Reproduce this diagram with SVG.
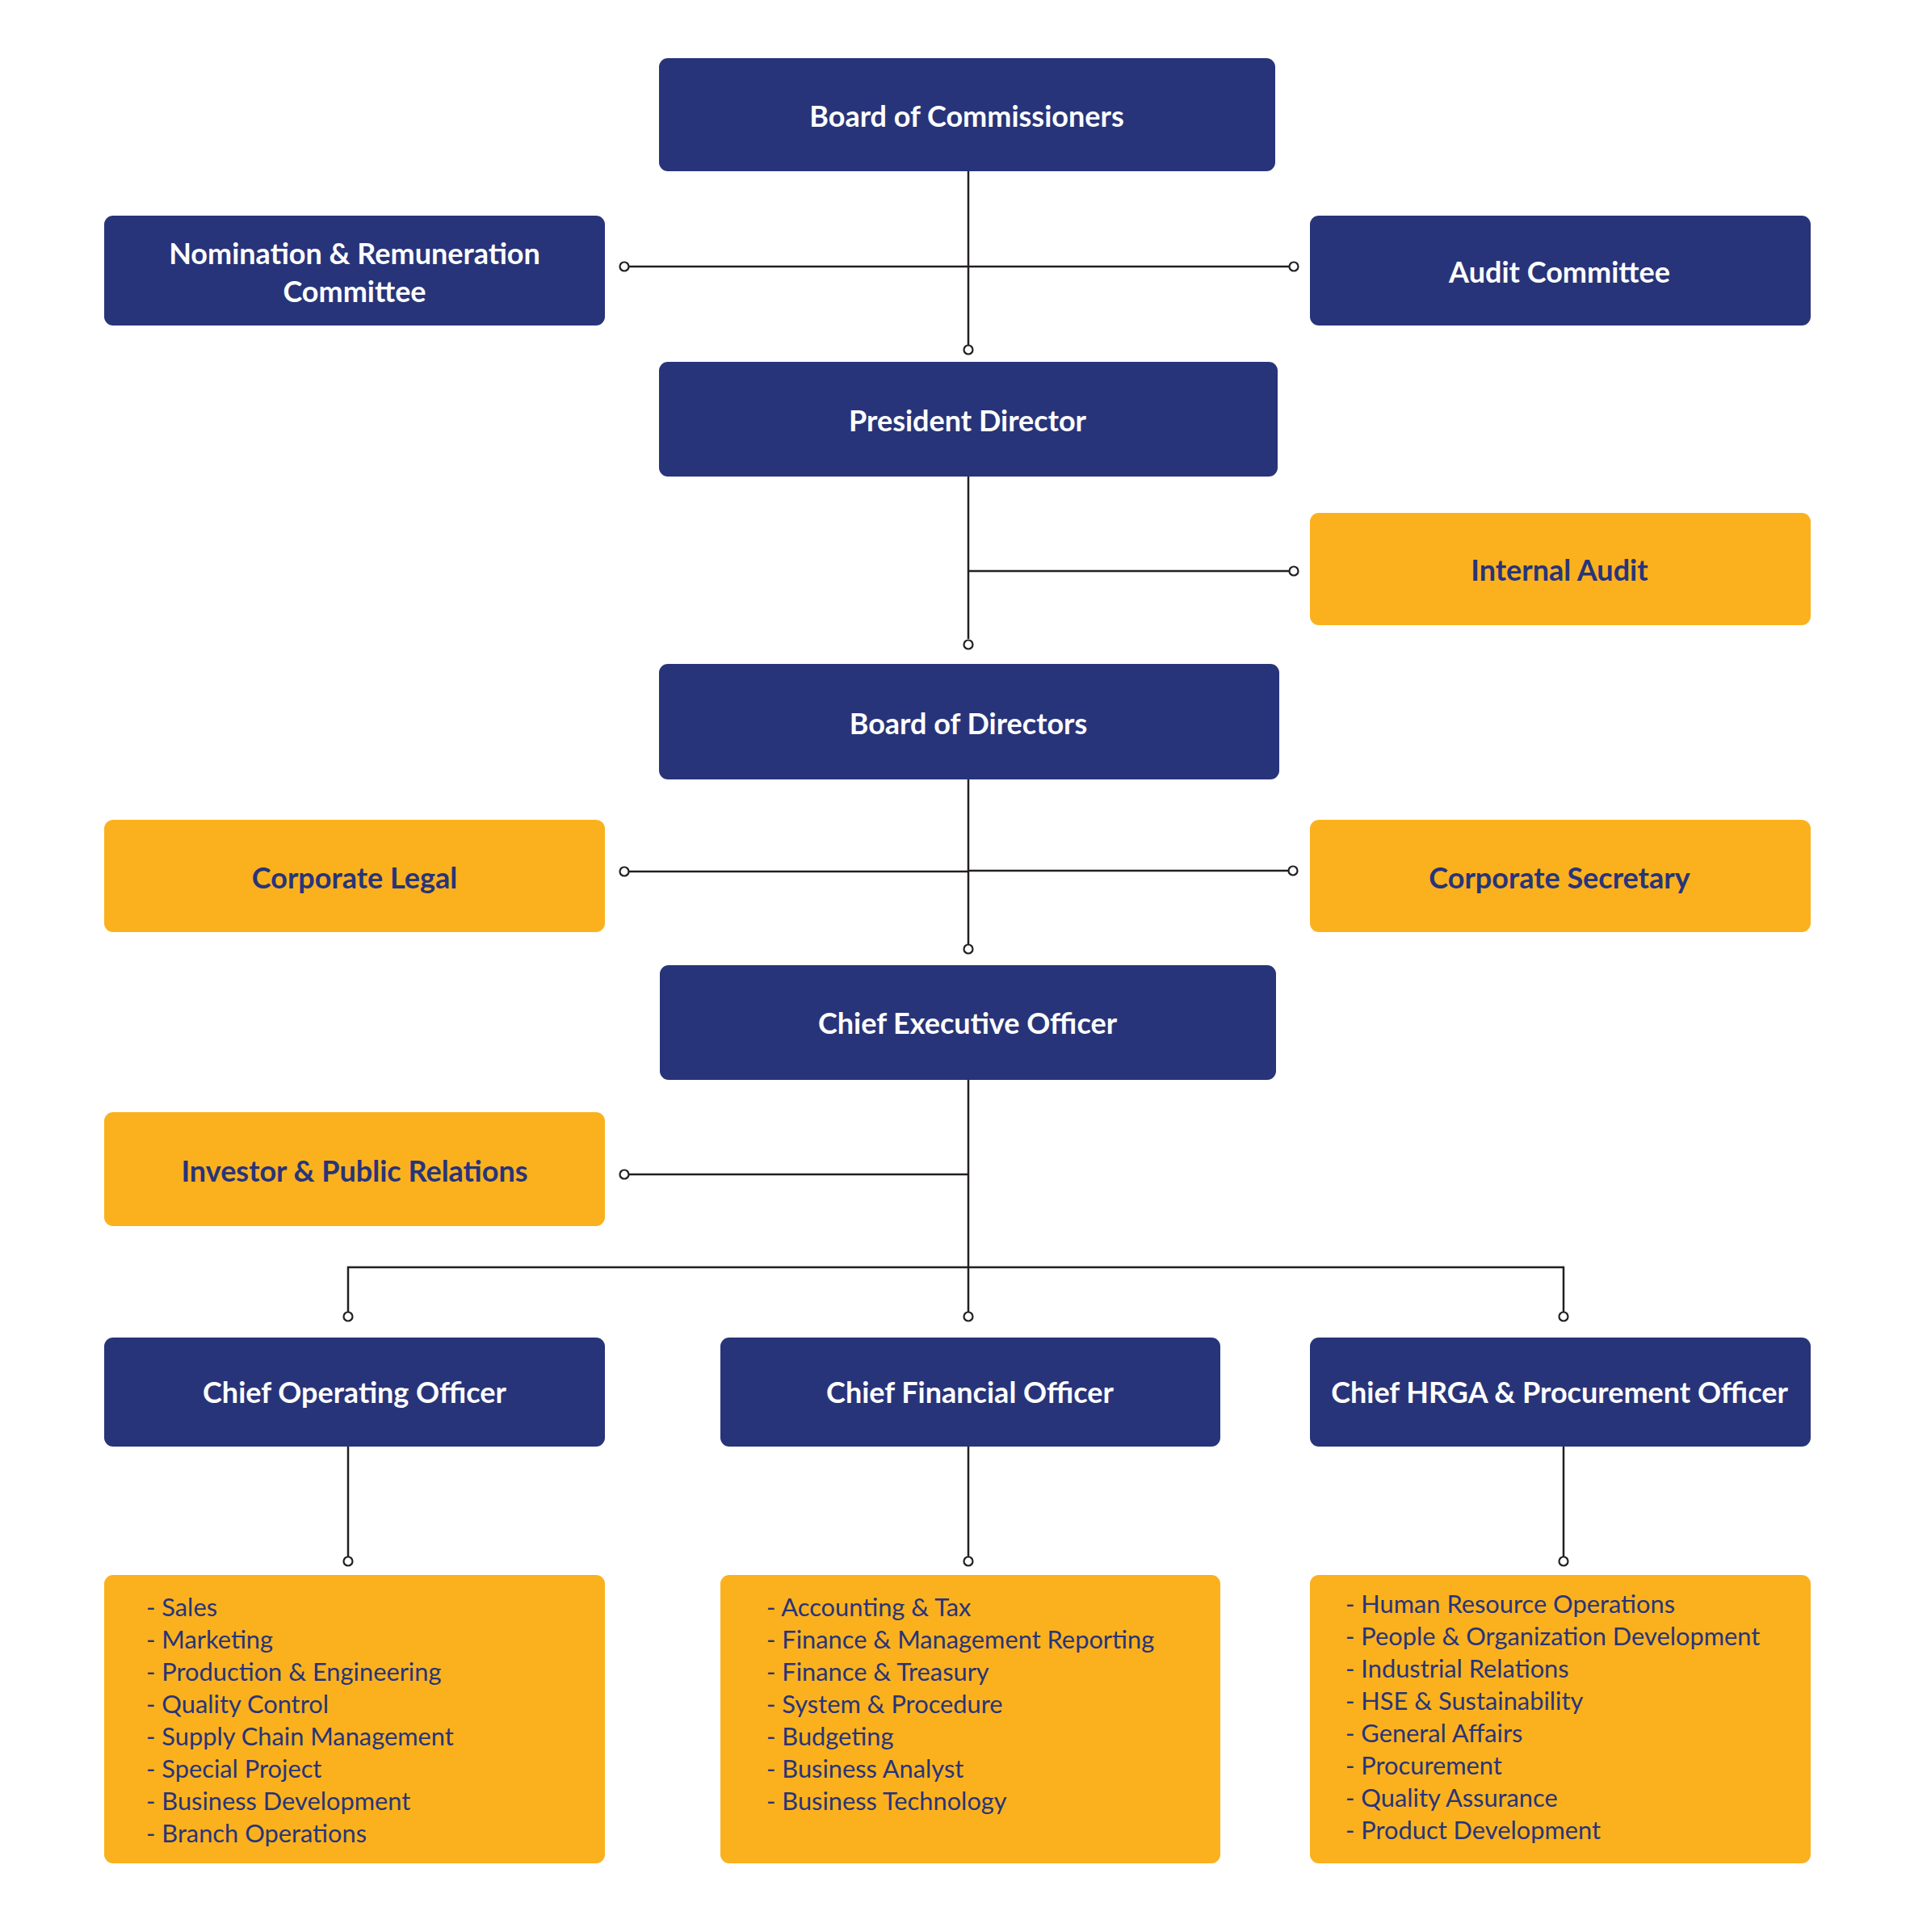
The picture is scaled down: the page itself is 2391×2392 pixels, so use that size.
<svg xmlns="http://www.w3.org/2000/svg" width="2391" height="2392" viewBox="0 0 2391 2392">
<style>
.navy{fill:#283479}
.orange{fill:#FBB11E}
.t{font-family:Lato,"Liberation Sans",sans-serif;font-weight:bold;font-size:36px;text-anchor:middle}
.w{fill:#ffffff}
.b{fill:#283479}
.l{font-family:Lato,"Liberation Sans",sans-serif;font-size:30.8px;fill:#283479}
.c{stroke:#231f20;stroke-width:2.5;fill:none}
.dot{stroke:#231f20;stroke-width:2.2;fill:#ffffff}
</style>
<rect width="2391" height="2392" fill="#ffffff"/>
<g id="connectors">
<path class="c" d="M1199 212V427M773 330H1596"/>
<path class="c" d="M1199 590V791M1199 707H1596"/>
<path class="c" d="M1199 965V1169M773 1079H1199M1199 1078H1595"/>
<path class="c" d="M1199 1337V1624M773 1454H1199M431 1624V1569H1936V1624"/>
<path class="c" d="M431 1791V1927M1199 1791V1927M1936 1791V1927"/>
<circle class="dot" cx="773" cy="330" r="5.5"/>
<circle class="dot" cx="1602" cy="330" r="5.5"/>
<circle class="dot" cx="1199" cy="433" r="5.5"/>
<circle class="dot" cx="1602" cy="707" r="5.5"/>
<circle class="dot" cx="1199" cy="798" r="5.5"/>
<circle class="dot" cx="773" cy="1079" r="5.5"/>
<circle class="dot" cx="1601" cy="1078" r="5.5"/>
<circle class="dot" cx="1199" cy="1175" r="5.5"/>
<circle class="dot" cx="773" cy="1454" r="5.5"/>
<circle class="dot" cx="431" cy="1630" r="5.5"/>
<circle class="dot" cx="1199" cy="1630" r="5.5"/>
<circle class="dot" cx="1936" cy="1630" r="5.5"/>
<circle class="dot" cx="431" cy="1933" r="5.5"/>
<circle class="dot" cx="1199" cy="1933" r="5.5"/>
<circle class="dot" cx="1936" cy="1933" r="5.5"/>
</g>
<g id="board-of-commissioners">
<rect class="navy" x="816" y="72" width="763" height="140" rx="11"/>
<text class="t w" x="1197" y="157">Board of Commissioners</text>
</g>
<g id="nomination-remuneration">
<rect class="navy" x="129" y="267" width="620" height="136" rx="11"/>
<text class="t w" x="439" y="327">Nomination &amp; Remuneration</text>
<text class="t w" x="439" y="374">Committee</text>
</g>
<g id="audit-committee">
<rect class="navy" x="1622" y="267" width="620" height="136" rx="11"/>
<text class="t w" x="1931" y="350">Audit Committee</text>
</g>
<g id="president-director">
<rect class="navy" x="816" y="448" width="766" height="142" rx="11"/>
<text class="t w" x="1198" y="534">President Director</text>
</g>
<g id="internal-audit">
<rect class="orange" x="1622" y="635" width="620" height="139" rx="11"/>
<text class="t b" x="1931" y="719">Internal Audit</text>
</g>
<g id="board-of-directors">
<rect class="navy" x="816" y="822" width="768" height="143" rx="11"/>
<text class="t w" x="1199" y="909">Board of Directors</text>
</g>
<g id="corporate-legal">
<rect class="orange" x="129" y="1015" width="620" height="139" rx="11"/>
<text class="t b" x="439" y="1100">Corporate Legal</text>
</g>
<g id="corporate-secretary">
<rect class="orange" x="1622" y="1015" width="620" height="139" rx="11"/>
<text class="t b" x="1931" y="1100">Corporate Secretary</text>
</g>
<g id="ceo">
<rect class="navy" x="817" y="1195" width="763" height="142" rx="11"/>
<text class="t w" x="1198" y="1280">Chief Executive Officer</text>
</g>
<g id="investor-public-relations">
<rect class="orange" x="129" y="1377" width="620" height="141" rx="11"/>
<text class="t b" x="439" y="1463">Investor &amp; Public Relations</text>
</g>
<g id="coo">
<rect class="navy" x="129" y="1656" width="620" height="135" rx="11"/>
<text class="t w" x="439" y="1737">Chief Operating Officer</text>
</g>
<g id="cfo">
<rect class="navy" x="892" y="1656" width="619" height="135" rx="11"/>
<text class="t w" x="1201" y="1737">Chief Financial Officer</text>
</g>
<g id="chrga">
<rect class="navy" x="1622" y="1656" width="620" height="135" rx="11"/>
<text class="t w" x="1931" y="1737">Chief HRGA &amp; Procurement Officer</text>
</g>
<g id="coo-units">
<rect class="orange" x="129" y="1950" width="620" height="357" rx="11"/>
<text class="l" x="181" y="2001">- Sales</text>
<text class="l" x="181" y="2041">- Marketing</text>
<text class="l" x="181" y="2081">- Production &amp; Engineering</text>
<text class="l" x="181" y="2121">- Quality Control</text>
<text class="l" x="181" y="2161">- Supply Chain Management</text>
<text class="l" x="181" y="2201">- Special Project</text>
<text class="l" x="181" y="2241">- Business Development</text>
<text class="l" x="181" y="2281">- Branch Operations</text>
</g>
<g id="cfo-units">
<rect class="orange" x="892" y="1950" width="619" height="357" rx="11"/>
<text class="l" x="949" y="2001">- Accounting &amp; Tax</text>
<text class="l" x="949" y="2041">- Finance &amp; Management Reporting</text>
<text class="l" x="949" y="2081">- Finance &amp; Treasury</text>
<text class="l" x="949" y="2121">- System &amp; Procedure</text>
<text class="l" x="949" y="2161">- Budgeting</text>
<text class="l" x="949" y="2201">- Business Analyst</text>
<text class="l" x="949" y="2241">- Business Technology</text>
</g>
<g id="chrga-units">
<rect class="orange" x="1622" y="1950" width="620" height="357" rx="11"/>
<text class="l" x="1666" y="1997">- Human Resource Operations</text>
<text class="l" x="1666" y="2037">- People &amp; Organization Development</text>
<text class="l" x="1666" y="2077">- Industrial Relations</text>
<text class="l" x="1666" y="2117">- HSE &amp; Sustainability</text>
<text class="l" x="1666" y="2157">- General Affairs</text>
<text class="l" x="1666" y="2197">- Procurement</text>
<text class="l" x="1666" y="2237">- Quality Assurance</text>
<text class="l" x="1666" y="2277">- Product Development</text>
</g>
</svg>
